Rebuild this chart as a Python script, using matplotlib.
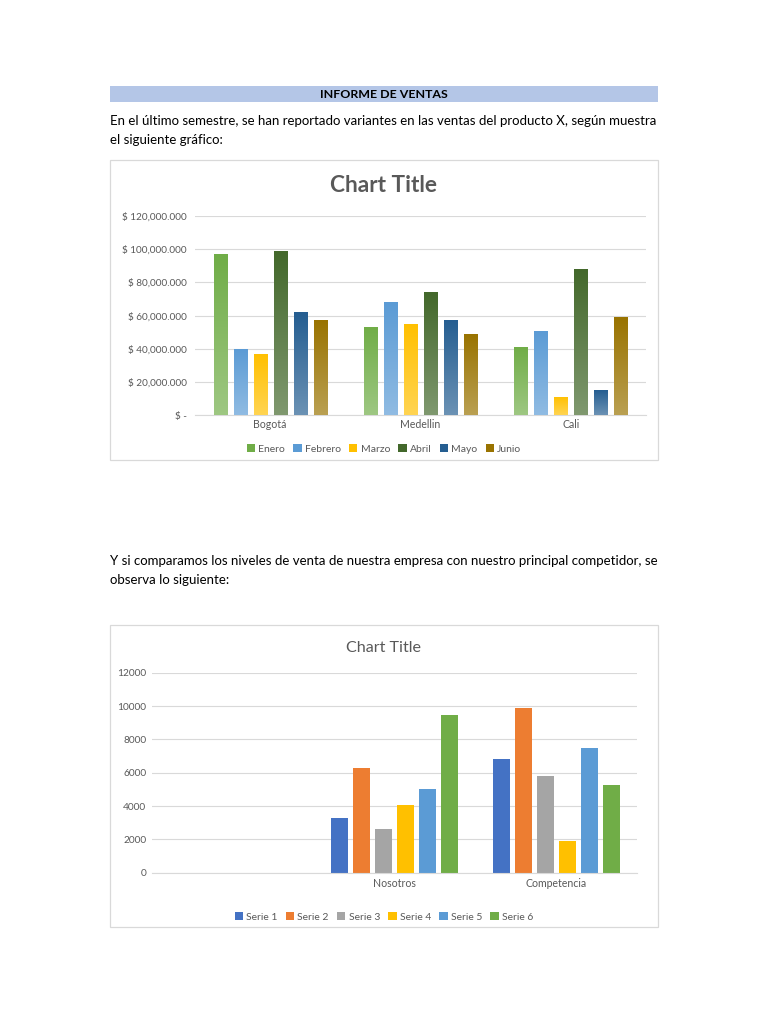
import numpy as np
import matplotlib
matplotlib.use('Agg')
import matplotlib.pyplot as plt
from matplotlib.patches import Rectangle
from matplotlib.colors import to_rgba
from matplotlib.ticker import FuncFormatter

plt.rcParams['font.family'] = ['Lato', 'DejaVu Sans']

W, H = 768, 1024
GRAY_TXT = '#595959'
GRID = '#D9D9D9'

# --- chart 1 data: ventas por ciudad y mes ---
cities = ["Bogotá", "Medellin", "Cali"]
months = ["Enero", "Febrero", "Marzo", "Abril", "Mayo", "Junio"]
enero = [97e6, 53e6, 41e6]
febrero = [40e6, 68e6, 51e6]
marzo = [37e6, 55e6, 11e6]
abril = [99e6, 74e6, 88e6]
mayo = [62e6, 57.5e6, 15e6]
junio = [57.5e6, 49e6, 59e6]
month_colors = ['#70AD47', '#5B9BD5', '#FFC000', '#43682B', '#255E91', '#997300']

# --- chart 2 data: nosotros vs competencia ---
groups = ["", "Nosotros", "Competencia"]
series_names = ["Serie 1", "Serie 2", "Serie 3", "Serie 4", "Serie 5", "Serie 6"]
serie1 = [0, 3300, 6800]
serie2 = [0, 6300, 9900]
serie3 = [0, 2600, 5800]
serie4 = [0, 4050, 1900]
serie5 = [0, 5000, 7500]
serie6 = [0, 9450, 5250]
serie_colors = ['#4472C4', '#ED7D31', '#A5A5A5', '#FFC000', '#5B9BD5', '#70AD47']


def px_axes(fig, x0, y0, x1, y1):
    """axes from pixel box (top-left origin)"""
    return fig.add_axes([x0 / W, 1 - y1 / H, (x1 - x0) / W, (y1 - y0) / H])


def px_box(fig, x0, y0, x1, y1, **kw):
    fig.patches.append(Rectangle((x0 / W, 1 - y1 / H), (x1 - x0) / W, (y1 - y0) / H,
                                 transform=fig.transFigure, zorder=-1, **kw))


def gradient_bar(ax, patch, color):
    top = np.array(to_rgba(color))
    bottom = top * 0.68 + np.array([1, 1, 1, 1]) * 0.32
    n = 64
    t = np.linspace(0, 1, n)[:, None]
    img = (bottom[None, :] * (1 - t) + top[None, :] * t)[:, None, :]
    x0, w, h = patch.get_x(), patch.get_width(), patch.get_height()
    im = ax.imshow(img, extent=(x0, x0 + w, 0, h), origin='lower', aspect='auto', zorder=3)
    im.set_clip_path(patch)


def style_axes(ax):
    ax.patch.set_alpha(0)
    for s in ['top', 'right', 'left']:
        ax.spines[s].set_visible(False)
    ax.spines['bottom'].set_color(GRID)
    ax.spines['bottom'].set_linewidth(0.8)
    ax.grid(axis='y', color=GRID, linewidth=0.8)
    ax.set_axisbelow(True)
    ax.tick_params(length=0, colors=GRAY_TXT)


fig = plt.figure(figsize=(W / 100, H / 100), dpi=100)

# document header + text
px_box(fig, 110, 86, 658, 102, facecolor='#B4C6E7', edgecolor='none')
fig.text(384 / W, 1 - 94.5 / H, "INFORME DE VENTAS", ha='center', va='center',
         fontsize=8.9, fontweight='bold', color='black')
fig.text(110 / W, 1 - 121 / H,
         "En el último semestre, se han reportado variantes en las ventas del producto X, según muestra",
         ha='left', va='center', fontsize=9.5, color='black')
fig.text(110 / W, 1 - 140 / H, "el siguiente gráfico:", ha='left', va='center', fontsize=9.5, color='black')
fig.text(110 / W, 1 - 561 / H,
         "Y si comparamos los niveles de venta de nuestra empresa con nuestro principal competidor, se",
         ha='left', va='center', fontsize=9.5, color='black')
fig.text(110 / W, 1 - 580 / H, "observa lo siguiente:", ha='left', va='center', fontsize=9.5, color='black')

# ---------------- chart 1 ----------------
px_box(fig, 110, 160, 658, 460, facecolor='white', edgecolor=GRID, linewidth=0.9)
fig.text(384 / W, 1 - 185 / H, "Chart Title", ha='center', va='center',
         fontsize=16.3, fontweight='bold', color=GRAY_TXT)
ax1 = px_axes(fig, 195, 216, 646, 415.3)
style_axes(ax1)
x = np.arange(len(cities))
bw, step = 0.0865, 0.133
month_vals = [enero, febrero, marzo, abril, mayo, junio]
for i, (name, vals, c) in enumerate(zip(months, month_vals, month_colors)):
    bars = ax1.bar(x + (i - 2.5) * step, vals, bw, color=c, label=name, zorder=2)
    for p in bars.patches:
        gradient_bar(ax1, p, c)
ax1.set_xlim(-0.5, len(cities) - 0.5)
ax1.set_ylim(0, 120e6)
ax1.set_yticks(np.arange(0, 120e6 + 1, 20e6))


def peso(v, pos):
    if v == 0:
        return "$ -"
    s = f"{int(v):,}"
    s = s[:-4] + "." + s[-3:]
    return "$ " + s


ax1.yaxis.set_major_formatter(FuncFormatter(peso))
ax1.set_xticks(x)
ax1.set_xticklabels(cities)
ax1.tick_params(axis='y', labelsize=7.2, pad=6)
ax1.tick_params(axis='x', labelsize=7.6, pad=2.5)
ax1.legend(loc='center', bbox_to_anchor=(384 / W, 1 - 449 / H), bbox_transform=fig.transFigure,
           ncol=6, frameon=False, fontsize=7.5, handlelength=0.8, handleheight=0.8,
           handletextpad=0.3, columnspacing=0.8, labelcolor=GRAY_TXT)

# ---------------- chart 2 ----------------
px_box(fig, 110, 625, 658, 927, facecolor='white', edgecolor=GRID, linewidth=0.9)
fig.text(384 / W, 1 - 648 / H, "Chart Title", ha='center', va='center',
         fontsize=11.6, color=GRAY_TXT)
ax2 = px_axes(fig, 152, 672.7, 637, 872.7)
style_axes(ax2)
x2 = np.arange(len(groups))
bw2, step2 = 0.105, 0.136
serie_vals = [serie1, serie2, serie3, serie4, serie5, serie6]
for i, (name, vals, c) in enumerate(zip(series_names, serie_vals, serie_colors)):
    ax2.bar(x2 + (i - 2.5) * step2, vals, bw2, color=c, label=name, zorder=2)
ax2.set_xlim(-0.5, len(groups) - 0.5)
ax2.set_ylim(0, 12000)
ax2.set_yticks(np.arange(0, 12001, 2000))
ax2.set_xticks(x2)
ax2.set_xticklabels(groups)
ax2.tick_params(axis='y', labelsize=7.3, pad=4)
ax2.tick_params(axis='x', labelsize=7.6, pad=3.5)
ax2.legend(loc='center', bbox_to_anchor=(384 / W, 1 - 917 / H), bbox_transform=fig.transFigure,
           ncol=6, frameon=False, fontsize=7.5, handlelength=0.8, handleheight=0.8,
           handletextpad=0.3, columnspacing=0.8, labelcolor=GRAY_TXT)

fig.savefig("out.png", dpi=100, facecolor='white')
